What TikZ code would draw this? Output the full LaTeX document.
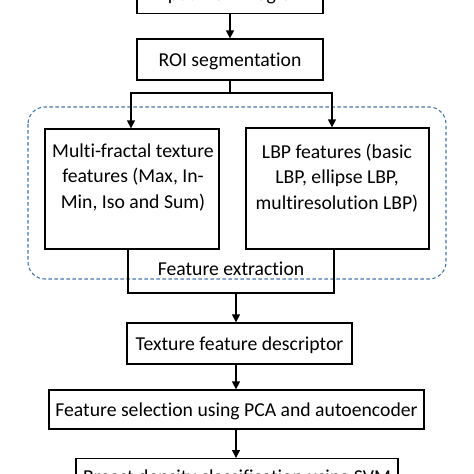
\documentclass[tikz,border=0pt]{standalone}
\usepackage{fontspec}
\setmainfont[Ligatures=NoCommon]{Carlito}
\usetikzlibrary{arrows.meta}
\definecolor{dashblue}{HTML}{4677B0}
\tikzset{
  box/.style={draw=black, line width=1.3pt, inner sep=0pt},
  conn/.style={draw=black, line width=1.3pt},
  arr/.style={conn, -{Triangle[length=8pt,width=8pt]}},
  txt/.style={font=\fontsize{19.7}{25.5}\selectfont, align=center, inner sep=0pt}
}
\begin{document}
\begin{tikzpicture}[x=1pt,y=-1pt]
\useasboundingbox (0,0) rectangle (474,474);
\clip (0,0) rectangle (474,474);
% top box (cut)
\node[box, minimum width=186pt, minimum height=40pt, anchor=south] (input) at (230,14) {};
\node[txt, anchor=base] (inputtxt) at (230,0) {Input mammogram};
% ROI
\node[box, minimum width=186pt, minimum height=41pt] (roi) at (230,59.5) {};
\node[txt] (roitxt) at (230,61.5) {ROI segmentation};
% feature extraction group
\draw[dashblue, line width=1.1pt, dash pattern=on 3.5pt off 2.5pt, rounded corners=17pt] (28,107) rectangle (446,279);
\node[txt] (fe) at (231,269) {Feature extraction};
% left & right boxes
\node[box, minimum width=174pt, minimum height=120pt] (mf) at (132,189) {};
\node[txt, anchor=north] (mftxt) at (133,143.5) {Multi-fractal texture\\features (Max, In-\\Min, Iso and Sum)};
\node[box, minimum width=183pt, minimum height=121pt] (lbp) at (337.5,188.5) {};
\node[txt, anchor=north] (lbptxt) at (337,143.5) {LBP features (basic\\LBP, ellipse LBP,\\multiresolution LBP)};
% descriptor
\node[box, minimum width=225pt, minimum height=41pt] (tfd) at (239.5,343.5) {};
\node[txt] (tfdtxt) at (239.5,345.5) {Texture feature descriptor};
% selection
\node[box, minimum width=375pt, minimum height=39pt] (fs) at (236.5,409.5) {};
\node[txt] (fstxt) at (236.5,411.5) {Feature selection using PCA and autoencoder};
% classification (cut)
\node[box, minimum width=322pt, minimum height=40pt, anchor=north] (cls) at (237,458) {};
\node[txt] (clstxt) at (237,478) {Breast density classification using SVM};
% connectors
\draw[arr] (input.south) -- (roi.north);
\coordinate (split) at (230,93);
\draw[conn] (roi.south) -- (split);
\draw[arr] (split) -| (mf.north -| 131,0);
\draw[arr] (split) -| (lbp.north -| 332,0);
\coordinate (join) at (236,293);
\draw[conn] (mf.south -| 128,0) |- (join);
\draw[conn] (lbp.south -| 334,0) |- (join);
\draw[arr] (join) -- (tfd.north -| 236,0);
\draw[arr] (tfd.south -| 236,0) -- (fs.north -| 236,0);
\draw[arr] (fs.south -| 236,0) -- (cls.north -| 236,0);
\end{tikzpicture}
\end{document}
